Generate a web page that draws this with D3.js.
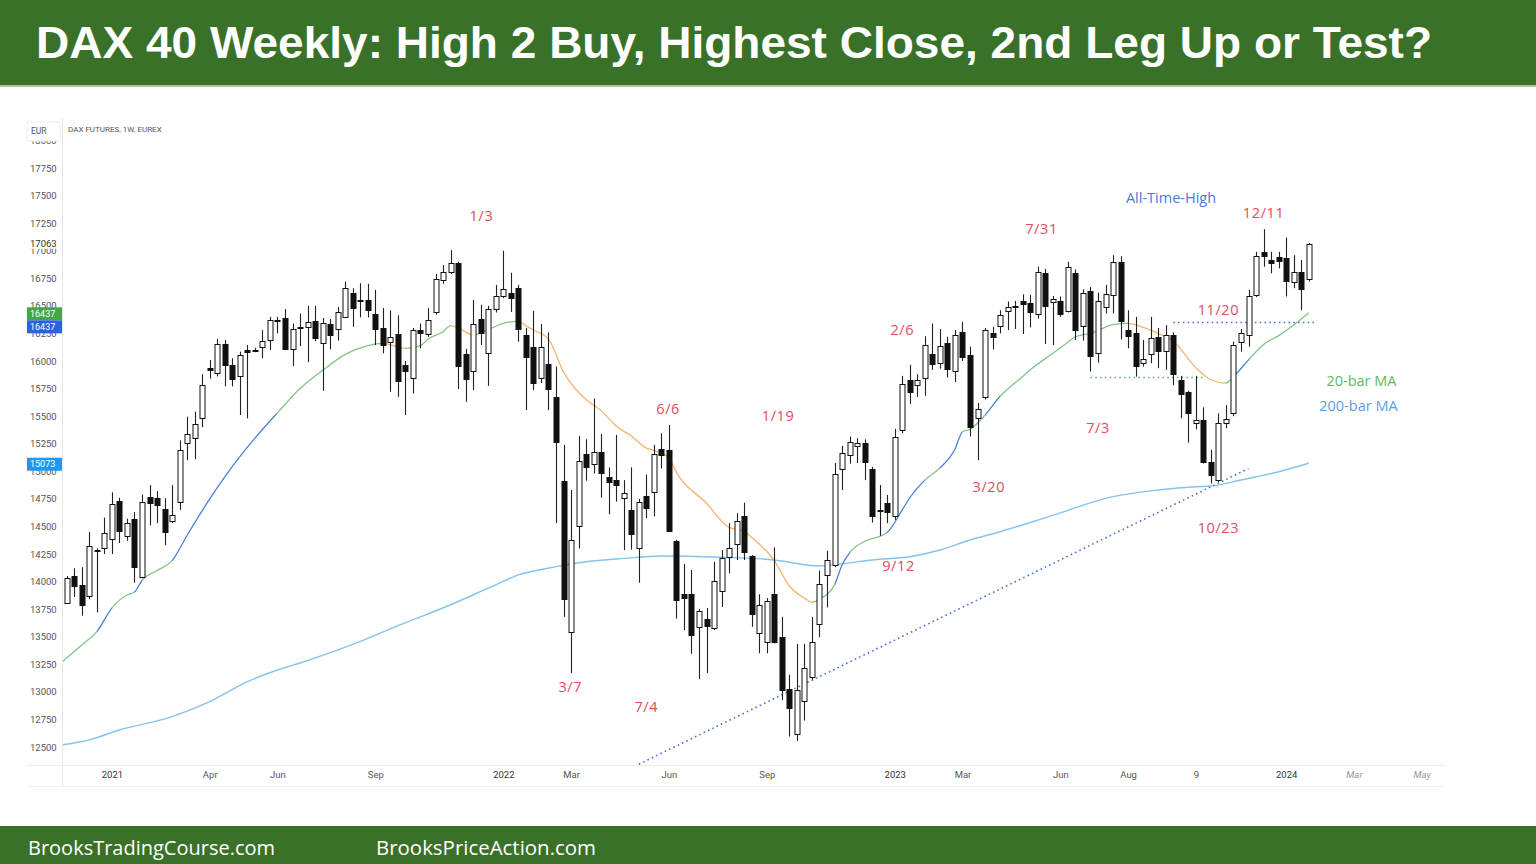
<!DOCTYPE html>
<html>
<head>
<meta charset="utf-8">
<title>DAX 40 Weekly</title>
<script src="https://cdn.jsdelivr.net/npm/d3@7"></script>
<style>
    body { margin: 0; background: #fff; }
    svg { display: block; font-family: "Liberation Sans", Arial, sans-serif; }
    .axis text { font-family: Roboto, "Liberation Sans", sans-serif; }
    .note { font-family: "Open Sans", "Liberation Sans", sans-serif; }
</style>
</head>
<body>
<svg width="1536" height="864"></svg>
<script>
    // weekly bars, the first one is the week of 2020-11-23
    var firstWeek = "2020-11-23";

    var opens = [13806,14050,13970,13870,14290,14300,14390,14730,14410,14570,
        14040,14770,14760,14655,14550,14720,15260,15300,15480,15935,
        15890,16150,15960,15860,16100,16090,16130,16190,16360,16390,
        16110,16300,16310,16360,16160,16340,16290,16400,16620,16550,
        16555,16430,16295,16175,16245,15965,15850,16280,16245,16445,
        16735,16810,16885,16060,15905,16385,16075,16470,16590,16620,
        16660,16240,16125,15845,15970,15675,14915,13545,14500,15155,
        15065,15175,14950,14920,14755,14650,14300,14775,14815,15205,
        15190,14370,13885,13885,13590,13665,13580,13910,14220,14345,
        14595,14230,13535,13455,13885,13500,13030,12620,12920,13135,
        13615,14060,14150,15020,15150,15225,15260,15025,14640,14715,
        14595,15375,15830,15785,15850,16065,15980,16160,15905,16260,
        16055,15480,15675,16255,16315,16455,16490,16540,16530,16430,
        16800,16535,16540,16455,16800,16320,16635,16070,16490,16600,
        16900,16280,16255,15980,16065,16220,16090,16235,15830,15720,
        15435,15465,15085,14920,15440,15530,16175,16235,16600,16990,
        16915,16945,16930,16720,16810,16745];

    var highs = [14050,14120,14130,14450,14300,14580,14810,14760,14570,14630,
        14790,14875,14820,14755,14875,15280,15495,15540,15880,16010,
        16200,16190,16025,16085,16145,16120,16280,16400,16400,16470,
        16340,16430,16500,16500,16390,16380,16490,16720,16660,16705,
        16700,16645,16480,16460,16415,16000,16300,16340,16480,16790,
        16870,17005,16900,16110,16555,16510,16500,16690,17000,16800,
        16690,16300,16455,16335,16260,15950,15240,14830,15320,15290,
        15660,15340,15035,15330,14920,15035,14750,14970,15240,15345,
        15420,14380,14160,14105,13750,13760,14180,14285,14530,14620,
        14715,14240,13885,13850,14310,13680,13155,13435,13435,13680,
        14100,14280,15075,15230,15315,15300,15290,15040,14876,14785,
        15385,15865,15965,15880,16225,16340,16290,16220,16280,16355,
        16130,15620,16300,16310,16460,16540,16545,16605,16600,16855,
        16835,16590,16585,16900,16830,16650,16670,16620,16690,16960,
        16950,16460,16400,16190,16400,16300,16325,16260,15865,15730,
        15865,15580,15195,15525,15600,16175,16290,16645,16990,17195,
        16990,16990,17120,16960,16915,17070];

    var lows = [13800,13860,13690,13840,13720,14250,14250,14350,14370,13990,
        14030,14510,14530,14330,14530,14650,15100,15110,15400,15840,
        15860,15770,15770,15510,15480,16080,16025,16100,16250,16100,
        15955,16135,15990,16180,15730,16105,16185,16390,16310,16395,
        16395,16145,16070,15720,15675,15510,15705,16115,16220,16420,
        16700,16790,15745,15630,15735,16145,15775,16440,16570,16445,
        16175,15555,15735,15800,15555,14530,13680,13170,14300,14915,
        14980,14760,14610,14725,14285,14290,13990,14575,14590,15025,
        14455,13665,13560,13345,13115,13170,13560,13770,14075,14195,
        14195,13590,13350,13350,13440,12925,12595,12555,12740,13110,
        13495,13765,14130,14830,15070,15075,14920,14535,14415,14530,
        14560,15345,15610,15675,15685,15920,15930,15850,15810,16000,
        15315,15100,15650,16105,16250,16280,16290,16245,16305,16385,
        16155,16145,16400,16440,16190,16185,15905,15985,16430,16430,
        16195,16115,15858,15950,15980,15935,15920,15780,15480,15260,
        15380,15070,14890,14900,15390,15500,16085,16130,16580,16855,
        16795,16840,16585,16660,16460,16720];

    var closes = [14030,13960,13790,14320,14285,14440,14700,14460,14530,14130,
        14720,14715,14690,14445,14600,15190,15335,15425,15780,15920,
        16150,15965,15835,16055,16085,16100,16185,16370,16375,16110,
        16290,16305,16355,16205,16345,16235,16445,16660,16480,16555,
        16465,16290,16145,16215,15820,15910,16280,16255,16375,16740,
        16810,16885,15955,15835,16340,16250,16470,16585,16650,16575,
        16290,16040,15805,16125,15750,15265,13840,14375,15095,15040,
        15175,14985,14905,14880,14800,14430,14725,14670,15160,15150,
        14460,13835,13855,13520,13735,13600,14005,14215,14300,14550,
        14270,13705,13790,13825,13455,13015,12850,13015,13215,13455,
        13980,14195,14975,15170,15270,15255,15085,14595,14645,14635,
        15310,15790,15720,15830,16145,15970,16135,15925,16240,16040,
        15405,15565,16280,16215,16415,16490,16500,16515,16440,16810,
        16500,16560,16430,16855,16280,16620,16045,16545,16605,16900,
        16365,16225,15955,16015,16205,16095,16235,15880,15705,15525,
        15465,15085,14965,15440,15470,16145,16250,16590,16950,16950,
        16885,16905,16725,16805,16655,17063];

    // 20-bar moving average (week number, value)
    var ma20Week = [-1,2,4,6,8,9,10,12,14,16,19,21,25,28,31,34,37,40,42,45,
        47,48,50,51,52,54,56,58,60,61,62,64,66,69,71,73,75,77,78,80,
        81,85,88,90,91,94,96,98,99,100,102,103,104,106,108,109,111,112,114,116,
        118,119,120,122,124,127,128,131,133,134,136,139,141,143,145,147,150,152,154,155,
        157,159,161,163,165];
    var ma20Val = [13250,13425,13546,13760,13878,13905,14010,14100,14190,14420,
        14750,14950,15300,15530,15750,15915,16060,16140,16160,16115,
        16140,16200,16266,16320,16300,16236,16285,16342,16360,16320,
        16281,16200,15900,15650,15550,15410,15320,15210,15190,15120,
        14990,14710,14490,14455,14400,14190,13960,13850,13812,13840,
        13970,14150,14260,14365,14410,14445,14650,14760,14920,15030,
        15200,15359,15380,15510,15680,15860,15920,16070,16170,16220,
        16250,16330,16342,16305,16251,16180,15940,15830,15800,15858,
        16010,16150,16230,16326,16437];

    // 200-bar moving average
    var ma200Week = [-1,3,7,14,19,24,28,31,38,44,51,56,60,65,69,74,79,87,94,100,
        103,107,112,116,120,124,131,139,145,150,152,156,161,165];
    var ma200Val = [12515,12565,12654,12775,12911,13092,13198,13262,13430,13600,
        13790,13940,14060,14135,14180,14210,14232,14220,14196,14141,
        14160,14196,14225,14286,14377,14452,14600,14770,14830,14860,
        14866,14921,14996,15073];

    // time axis
    var tickDates = ["2021-01-04","2021-04-05","2021-06-07","2021-09-06","2022-01-03","2022-03-07",
        "2022-06-06","2022-09-05","2023-01-02","2023-03-06","2023-06-05","2023-08-07",
        "2023-10-09","2024-01-01","2024-03-04","2024-05-06"];
    var tickLabels = ["2021","Apr","Jun","Sep","2022","Mar","Jun","Sep","2023","Mar","Jun","Aug",
        "9","2024","Mar","May"];
    var priceTicks = d3.range(12500, 18001, 250);

    // dotted levels and the trend line
    var levelPrice = [16356, 15852];
    var levelFrom = [147, 136];
    var levelTo = [166, 151];
    var levelKind = ["blue", "green"];
    var trendWeek = [76, 157];
    var trendPrice = [12344, 15025];

    // chart notes
    var noteText = ["1/3","6/6","1/19","3/7","7/4","9/12","2/6","3/20","7/31","7/3","11/20","10/23","12/11",
        "All-Time-High","20-bar MA","200-bar MA"];
    var noteWeek = [55.1,79.9,94.5,66.9,77,110.5,111,122.5,129.5,137,153,153,159,146.7,172,171.6];
    var notePrice = [17315,15565,15501,13044,12863,14141,16281,14857,17197,15392,16462,14486,17342,
        17478,15818,15592];
    var noteKind = ["date","date","date","date","date","date","date","date","date","date","date","date","date",
        "ath","ma20","ma200"];

    var lastPrice = 17063;

    var svg = d3.select("svg");
    var W = 1536, H = 864;
    var plot = { left: 62, right: 1445, top: 118, bottom: 765 };

    var parse = d3.utcParse("%Y-%m-%d");
    var t0 = parse(firstWeek);
    function weekDate(w) { return new Date(t0.getTime() + w * 7 * 864e5); }

    var x = d3.scaleUtc()
        .domain([weekDate(-0.625), weekDate(183.1)])
        .range([plot.left, plot.right]);
    var y = d3.scaleLinear()
        .domain([12500, 17750])
        .range([747, 168]);

    var green = "#3a7129";

    // header and footer
    svg.append("rect").attr("width", W).attr("height", 85).attr("fill", green);
    svg.append("rect").attr("y", 85).attr("width", W).attr("height", 2).attr("fill", "#a8c79b");
    svg.append("text")
        .attr("x", 36).attr("y", 58)
        .attr("fill", "#fff")
        .attr("font-size", 45).attr("font-weight", "bold")
        .attr("textLength", 1396).attr("lengthAdjust", "spacingAndGlyphs")
        .text("DAX 40 Weekly: High 2 Buy, Highest Close, 2nd Leg Up or Test?");

    svg.append("rect").attr("y", 826).attr("width", W).attr("height", H - 826).attr("fill", green);
    svg.append("text").attr("x", 28).attr("y", 855).attr("fill", "#fff")
        .attr("font-family", "'Open Sans', sans-serif").attr("font-size", 20)
        .attr("textLength", 247).attr("lengthAdjust", "spacingAndGlyphs")
        .text("BrooksTradingCourse.com");
    svg.append("text").attr("x", 376).attr("y", 855).attr("fill", "#fff")
        .attr("font-family", "'Open Sans', sans-serif").attr("font-size", 20)
        .attr("textLength", 220).attr("lengthAdjust", "spacingAndGlyphs")
        .text("BrooksPriceAction.com");

    // frame lines
    svg.append("line").attr("x1", plot.left + 0.5).attr("x2", plot.left + 0.5)
        .attr("y1", plot.top).attr("y2", 786).attr("stroke", "#e8e8e8");
    svg.append("line").attr("x1", 27).attr("x2", plot.right)
        .attr("y1", plot.bottom + 0.5).attr("y2", plot.bottom + 0.5).attr("stroke", "#ececec");
    svg.append("line").attr("x1", 27).attr("x2", plot.right)
        .attr("y1", 786.5).attr("y2", 786.5).attr("stroke", "#f0f0f0");

    // price axis
    var yAxis = svg.append("g").attr("class", "axis")
        .attr("transform", "translate(30,0)")
        .call(d3.axisRight(y).tickValues(priceTicks).tickSize(0).tickPadding(0).tickFormat(d3.format("d")));
    yAxis.select(".domain").remove();
    yAxis.selectAll("text").attr("fill", "#555").attr("font-size", 9.5);

    // time axis
    var lastDate = weekDate(opens.length - 1);
    var xAxis = svg.append("g").attr("class", "axis")
        .attr("transform", "translate(0," + plot.bottom + ")")
        .call(d3.axisBottom(x).tickValues(tickDates.map(parse)).tickSize(0).tickPadding(6)
            .tickFormat(function (d, i) { return tickLabels[i]; }));
    xAxis.select(".domain").remove();
    xAxis.selectAll("text")
        .attr("font-size", 9.5)
        .attr("fill", function (d, i) {
            if (d > lastDate) return "#999";
            return /^\d{4}$/.test(tickLabels[i]) ? "#333" : "#555";
        })
        .attr("font-style", function (d) { return d > lastDate ? "italic" : null; });

    svg.append("text").attr("x", 68).attr("y", 132)
        .attr("font-family", "Roboto, sans-serif").attr("font-size", 8).attr("fill", "#555")
        .text("DAX FUTURES, 1W, EUREX");

    // plot clip
    svg.append("defs").append("clipPath").attr("id", "plotclip")
        .append("rect").attr("x", plot.left + 1).attr("y", plot.top)
        .attr("width", plot.right - plot.left).attr("height", plot.bottom - plot.top);
    var chart = svg.append("g").attr("clip-path", "url(#plotclip)");

    // 200-bar MA
    var ma200 = ma200Week.map(function (w, i) { return { date: weekDate(w), v: ma200Val[i] }; });
    var line = d3.line()
        .x(function (d) { return x(d.date); })
        .y(function (d) { return y(d.v); })
        .curve(d3.curveMonotoneX);
    chart.append("path").datum(ma200)
        .attr("d", line).attr("fill", "none")
        .attr("stroke", "#86c2ee").attr("stroke-width", 1.4);

    // 20-bar MA, coloured by slope
    var ma20 = ma20Week.map(function (w, i) { return { week: w, date: weekDate(w), v: ma20Val[i] }; });
    var grad = svg.select("defs").append("linearGradient")
        .attr("id", "ma20grad").attr("gradientUnits", "userSpaceOnUse")
        .attr("x1", plot.left).attr("x2", plot.right).attr("y1", 0).attr("y2", 0);
    function off(d) { return Math.max(0, Math.min(1, (x(d.date) - plot.left) / (plot.right - plot.left))); }
    for (var i = 0; i < ma20.length - 1; i++) {
        var slope = (ma20[i + 1].v - ma20[i].v) / (ma20[i + 1].week - ma20[i].week);
        var col = slope >= 75 ? "#4b7fd8" : slope >= 0 ? "#84c387" : "#f3b46c";
        grad.append("stop").attr("offset", off(ma20[i])).attr("stop-color", col);
        grad.append("stop").attr("offset", off(ma20[i + 1])).attr("stop-color", col);
    }
    chart.append("path").datum(ma20)
        .attr("d", line).attr("fill", "none")
        .attr("stroke", "url(#ma20grad)").attr("stroke-width", 1.3);

    // trend line and levels
    chart.append("line")
        .attr("x1", x(weekDate(trendWeek[0]))).attr("y1", y(trendPrice[0]))
        .attr("x2", x(weekDate(trendWeek[1]))).attr("y2", y(trendPrice[1]))
        .attr("stroke", "#4a72d4").attr("stroke-width", 1.6).attr("stroke-dasharray", "1.6,3.2");
    levelPrice.forEach(function (p, i) {
        chart.append("line")
            .attr("x1", x(weekDate(levelFrom[i]))).attr("x2", x(weekDate(levelTo[i])))
            .attr("y1", Math.round(y(p)) + 0.5).attr("y2", Math.round(y(p)) + 0.5)
            .attr("stroke", levelKind[i] === "blue" ? "#4a72d4" : "#66b866")
            .attr("stroke-width", 1.6).attr("stroke-dasharray", "1.6,3.2");
    });

    // candles
    var bars = opens.map(function (o, i) {
        return { date: weekDate(i), o: o, h: highs[i], l: lows[i], c: closes[i] };
    });
    var candle = chart.selectAll(".candle").data(bars).enter().append("g").attr("class", "candle");
    candle.append("line")
        .attr("x1", function (d) { return Math.round(x(d.date)) + 0.5; })
        .attr("x2", function (d) { return Math.round(x(d.date)) + 0.5; })
        .attr("y1", function (d) { return y(d.h); })
        .attr("y2", function (d) { return y(d.l); })
        .attr("stroke", "#222").attr("stroke-width", 1.1);
    candle.append("rect")
        .attr("x", function (d) { return Math.round(x(d.date)) - 2; })
        .attr("width", 5)
        .attr("y", function (d) { return Math.round(y(Math.max(d.o, d.c))) + 0.5; })
        .attr("height", function (d) {
            return Math.max(1, Math.round(y(Math.min(d.o, d.c))) - Math.round(y(Math.max(d.o, d.c))));
        })
        .attr("fill", function (d) { return d.c >= d.o ? "#fff" : "#111"; })
        .attr("stroke", "#111").attr("stroke-width", 1);

    // notes
    var noteColor = { date: "#e14d5c", ath: "#4d78dc", ma20: "#5fb75f", ma200: "#5b9ee0" };
    noteText.forEach(function (t, i) {
        svg.append("text").attr("class", "note")
            .attr("x", x(weekDate(noteWeek[i]))).attr("y", y(notePrice[i]))
            .attr("dy", "0.35em").attr("text-anchor", "middle")
            .attr("font-size", 14.5).attr("letter-spacing", noteKind[i] === "date" ? 0.6 : 0)
            .attr("fill", noteColor[noteKind[i]])
            .text(t);
    });

    // EUR box on top of the axis
    svg.append("rect").attr("x", 27).attr("y", 122).attr("width", 33).attr("height", 19)
        .attr("fill", "#fff").attr("stroke", "#eee");
    svg.append("text").attr("x", 31).attr("y", 134).attr("font-family", "Roboto, sans-serif")
        .attr("font-size", 8.5).attr("fill", "#555").text("EUR");

    // last price label
    svg.append("rect").attr("x", 27).attr("y", y(lastPrice) - 7).attr("width", 34).attr("height", 12)
        .attr("fill", "#fff");
    svg.append("text").attr("x", 30).attr("y", y(lastPrice)).attr("dy", "0.35em")
        .attr("font-family", "Roboto, sans-serif").attr("font-size", 9.5).attr("fill", "#333")
        .text(d3.format("d")(lastPrice));

    // moving-average value tags
    var last20 = ma20Val[ma20Val.length - 1];
    var last200 = ma200Val[ma200Val.length - 1];
    var tags = [
        { v: last20, shift: 1, fill: "#43a648" },
        { v: last20, shift: 14, fill: "#2b62e0" },
        { v: last200, shift: 1, fill: "#2196f3" }
    ];
    tags.forEach(function (t) {
        var cy = y(t.v) + t.shift;
        svg.append("rect").attr("x", 27).attr("y", cy - 6.5).attr("width", 35).attr("height", 13)
            .attr("fill", t.fill);
        svg.append("text").attr("x", 30).attr("y", cy).attr("dy", "0.35em")
            .attr("font-family", "Roboto, sans-serif").attr("font-size", 9).attr("fill", "#fff")
            .text(d3.format("d")(t.v));
    });
</script>
</body>
</html>
